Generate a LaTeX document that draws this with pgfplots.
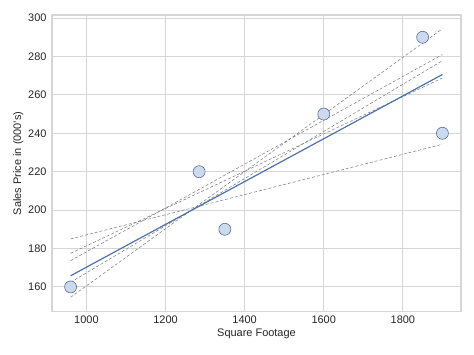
\documentclass[border=0pt]{standalone}
\usepackage{pgfplots}
\pgfplotsset{compat=1.18}
\usepackage{fontspec}
\setmainfont{Liberation Sans}
\definecolor{sbblue}{RGB}{76,114,176}
\definecolor{mfill}{RGB}{205,217,237}
\definecolor{medge}{RGB}{84,112,160}
\definecolor{gridc}{RGB}{214,214,214}
\definecolor{dashc}{RGB}{120,120,120}
\begin{document}
\begin{tikzpicture}
\useasboundingbox (0,0) rectangle (474bp,355bp);
\begin{axis}[
  at={(52bp,43.3bp)}, anchor=south west,
  scale only axis, width=409bp, height=296.7bp,
  xmin=913, xmax=1947, ymin=147.1, ymax=301.6,
  xtick={1000,1200,1400,1600,1800},
  ytick={160,180,200,220,240,260,280,300},
  grid=major,
  major grid style={gridc, line width=1pt},
  axis line style={gridc, line width=1.2pt},
  major tick length=0pt,
  tick label style={font=\fontsize{11}{13}\selectfont, text=black!85},
  label style={font=\fontsize{11}{13}\selectfont, text=black!85},
  /pgf/number format/assume math mode=true,
  /pgf/number format/1000 sep={},
  xticklabel style={yshift=-1bp},
  yticklabel style={xshift=-2bp},
  xlabel={Square Footage},
  ylabel={Sales Price in (000's)},
  xlabel style={yshift=2bp},
  ylabel style={yshift=-2bp},
  axis on top=false,
]
\addplot[dashc, densely dashed, line width=0.5pt] coordinates {(960,154.6) (1900,294.4)};
\addplot[dashc, densely dashed, line width=0.5pt] coordinates {(960,185.0) (1900,234.3)};
\addplot[dashc, densely dashed, line width=0.5pt] coordinates {(960,177.5) (1900,268.8)};
\addplot[dashc, densely dashed, line width=0.5pt] coordinates {(960,173.7) (1900,281.0)};
\addplot[dashc, densely dashed, line width=0.5pt] coordinates {(960,162.4) (1900,277.8)};
\addplot[sbblue, line width=1.2pt] coordinates {(960,165.8) (1900,270.6)};
\addplot[only marks, mark=*, mark size=6bp,
  mark options={fill=mfill, draw=medge, line width=0.6pt}]
  coordinates {(960,160) (1285,220) (1350,190) (1600,250) (1850,290) (1900,240)};
\end{axis}
\end{tikzpicture}
\end{document}
